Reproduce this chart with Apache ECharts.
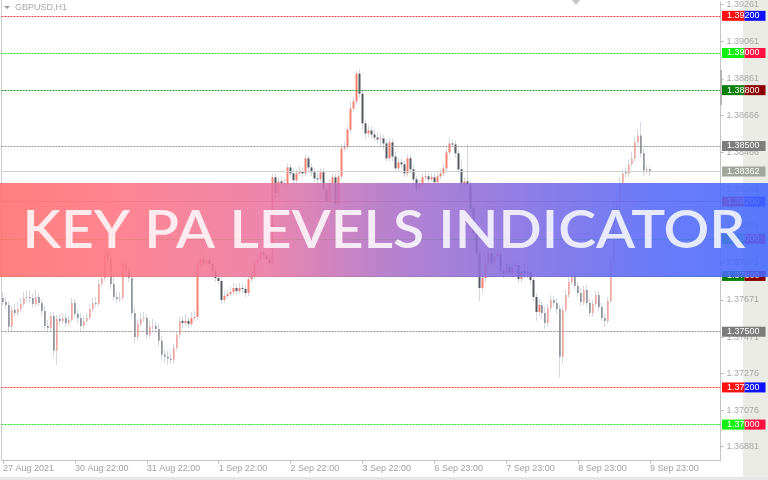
<!DOCTYPE html>
<html><head><meta charset="utf-8">
<script src="https://cdn.jsdelivr.net/npm/echarts@6/dist/echarts.min.js"></script>
<style>html,body{margin:0;padding:0;background:#fff}#c{width:768px;height:480px}</style>
</head><body><div id="c"></div>
<script>
// ---- data ----
const dayLabels = ['27 Aug 2021','30 Aug 22:00','31 Aug 22:00','1 Sep 22:00','2 Sep 22:00','3 Sep 22:00','6 Sep 23:00','7 Sep 23:00','8 Sep 23:00','9 Sep 23:00'];
const barsPerLabel = 24;
const slotCount = 240;
const opens = [
1.37681,1.37660,1.37644,1.37526,1.37617,1.37601,1.37622,1.37649,1.37681,1.37687,
1.37681,1.37649,1.37687,1.37655,1.37612,1.37531,1.37520,1.37585,1.37397,1.37569,
1.37558,1.37574,1.37547,1.37563,1.37655,1.37596,1.37574,1.37531,1.37558,1.37574,
1.37622,1.37655,1.37649,1.37757,1.37789,1.37928,1.37891,1.37757,1.37687,1.37676,
1.37681,1.37864,1.37826,1.37789,1.37601,1.37472,1.37542,1.37569,1.37574,1.37483,
1.37526,1.37531,1.37515,1.37451,1.37376,1.37365,1.37354,1.37349,1.37413,1.37483,
1.37558,1.37547,1.37558,1.37542,1.37574,1.37580,1.37859,1.37891,1.37869,1.37885,
1.37864,1.37826,1.37789,1.37773,1.37671,1.37692,1.37703,1.37714,1.37735,1.37719,
1.37735,1.37730,1.37708,1.37783,1.37800,1.37869,1.37891,1.37928,1.37912,1.37891,
1.37869,1.38331,1.38245,1.38309,1.38299,1.38293,1.38384,1.38352,1.38315,1.38352,
1.38363,1.38352,1.38433,1.38384,1.38358,1.38325,1.38320,1.38358,1.38266,1.38202,
1.38299,1.38331,1.38186,1.38336,1.38486,1.38497,1.38588,1.38701,1.38739,1.38889,
1.38781,1.38621,1.38567,1.38583,1.38561,1.38545,1.38535,1.38540,1.38513,1.38433,
1.38519,1.38443,1.38379,1.38411,1.38401,1.38352,1.38433,1.38374,1.38320,1.38266,
1.38293,1.38331,1.38336,1.38320,1.38331,1.38304,1.38336,1.38352,1.38379,1.38465,
1.38513,1.38508,1.38460,1.38374,1.38299,1.38309,1.38293,1.38164,1.38030,1.37923,
1.37735,1.37789,1.37869,1.37923,1.37869,1.37907,1.37918,1.37826,1.37810,1.37848,
1.37816,1.37848,1.37859,1.37783,1.37826,1.37810,1.37821,1.37778,1.37687,1.37606,
1.37644,1.37601,1.37547,1.37628,1.37671,1.37655,1.37622,1.37365,1.37617,1.37698,
1.37767,1.37794,1.37746,1.37708,1.37660,1.37724,1.37655,1.37601,1.37649,1.37698,
1.37633,1.37574,1.37558,1.37665,1.37869,1.38159,1.38186,1.38299,1.38358,1.38352,
1.38401,1.38433,1.38519,1.38556,1.38460,1.38368,1.38374];
const closes = [
1.37660,1.37644,1.37526,1.37617,1.37601,1.37622,1.37649,1.37681,1.37687,1.37681,
1.37649,1.37687,1.37655,1.37612,1.37531,1.37520,1.37585,1.37397,1.37569,1.37558,
1.37574,1.37547,1.37563,1.37655,1.37596,1.37574,1.37531,1.37558,1.37574,1.37622,
1.37655,1.37649,1.37757,1.37789,1.37928,1.37891,1.37757,1.37687,1.37676,1.37681,
1.37864,1.37826,1.37789,1.37601,1.37472,1.37542,1.37569,1.37574,1.37483,1.37526,
1.37531,1.37515,1.37451,1.37376,1.37365,1.37354,1.37349,1.37413,1.37483,1.37558,
1.37547,1.37558,1.37542,1.37574,1.37580,1.37859,1.37891,1.37869,1.37885,1.37864,
1.37826,1.37789,1.37773,1.37671,1.37692,1.37703,1.37714,1.37735,1.37719,1.37735,
1.37730,1.37708,1.37783,1.37800,1.37869,1.37891,1.37928,1.37912,1.37891,1.37869,
1.38331,1.38245,1.38309,1.38299,1.38293,1.38384,1.38352,1.38315,1.38352,1.38363,
1.38352,1.38433,1.38384,1.38358,1.38325,1.38320,1.38358,1.38266,1.38202,1.38299,
1.38331,1.38186,1.38336,1.38486,1.38497,1.38588,1.38701,1.38739,1.38889,1.38781,
1.38621,1.38567,1.38583,1.38561,1.38545,1.38535,1.38540,1.38513,1.38433,1.38519,
1.38443,1.38379,1.38411,1.38401,1.38352,1.38433,1.38374,1.38320,1.38266,1.38293,
1.38331,1.38336,1.38320,1.38331,1.38304,1.38336,1.38352,1.38379,1.38465,1.38513,
1.38508,1.38460,1.38374,1.38299,1.38309,1.38293,1.38164,1.38030,1.37923,1.37735,
1.37789,1.37869,1.37923,1.37869,1.37907,1.37918,1.37826,1.37810,1.37848,1.37816,
1.37848,1.37859,1.37783,1.37826,1.37810,1.37821,1.37778,1.37687,1.37606,1.37644,
1.37601,1.37547,1.37628,1.37671,1.37655,1.37622,1.37365,1.37617,1.37698,1.37767,
1.37794,1.37746,1.37708,1.37660,1.37724,1.37655,1.37601,1.37649,1.37698,1.37633,
1.37574,1.37558,1.37665,1.37869,1.38159,1.38186,1.38299,1.38352,1.38352,1.38401,
1.38433,1.38519,1.38556,1.38460,1.38368,1.38374,1.38362];
const lows = [
1.37638,1.37622,1.37499,1.37504,1.37580,1.37585,1.37606,1.37633,1.37660,1.37655,
1.37628,1.37633,1.37638,1.37590,1.37510,1.37494,1.37504,1.37365,1.37322,1.37537,
1.37542,1.37526,1.37531,1.37553,1.37580,1.37547,1.37504,1.37515,1.37547,1.37563,
1.37606,1.37633,1.37638,1.37741,1.37773,1.37869,1.37730,1.37665,1.37655,1.37660,
1.37671,1.37794,1.37767,1.37580,1.37440,1.37451,1.37526,1.37553,1.37461,1.37467,
1.37504,1.37494,1.37424,1.37343,1.37333,1.37322,1.37327,1.37333,1.37397,1.37467,
1.37520,1.37531,1.37520,1.37531,1.37558,1.37563,1.37842,1.37848,1.37853,1.37842,
1.37805,1.37767,1.37751,1.37649,1.37655,1.37681,1.37692,1.37698,1.37698,1.37708,
1.37708,1.37687,1.37692,1.37767,1.37783,1.37853,1.37875,1.37891,1.37869,1.37848,
1.37853,1.38213,1.38229,1.38277,1.38266,1.38277,1.38331,1.38293,1.38299,1.38336,
1.38331,1.38336,1.38363,1.38336,1.38304,1.38299,1.38304,1.38245,1.38175,1.38186,
1.38282,1.38159,1.38170,1.38320,1.38470,1.38481,1.38572,1.38685,1.38722,1.38760,
1.38588,1.38540,1.38545,1.38535,1.38524,1.38513,1.38497,1.38481,1.38417,1.38417,
1.38417,1.38363,1.38363,1.38379,1.38331,1.38336,1.38352,1.38299,1.38245,1.38250,
1.38277,1.38315,1.38299,1.38309,1.38282,1.38288,1.38320,1.38336,1.38363,1.38449,
1.38492,1.38438,1.38352,1.38256,1.38277,1.38256,1.38138,1.38009,1.37891,1.37665,
1.37708,1.37762,1.37848,1.37848,1.37848,1.37891,1.37800,1.37789,1.37794,1.37794,
1.37800,1.37837,1.37762,1.37767,1.37789,1.37789,1.37757,1.37665,1.37558,1.37585,
1.37569,1.37515,1.37526,1.37612,1.37633,1.37596,1.37252,1.37333,1.37601,1.37681,
1.37751,1.37724,1.37687,1.37638,1.37644,1.37633,1.37580,1.37580,1.37633,1.37612,
1.37558,1.37526,1.37542,1.37655,1.37853,1.38138,1.38170,1.38277,1.38325,1.38331,
1.38384,1.38417,1.38502,1.38438,1.38341,1.38352,1.38336];
const highs = [
1.37714,1.37687,1.37665,1.37638,1.37649,1.37660,1.37681,1.37714,1.37724,1.37719,
1.37703,1.37724,1.37708,1.37676,1.37638,1.37563,1.37606,1.37606,1.37590,1.37596,
1.37601,1.37596,1.37585,1.37681,1.37676,1.37617,1.37601,1.37585,1.37601,1.37649,
1.37681,1.37687,1.37778,1.37826,1.37955,1.37950,1.37923,1.37794,1.37714,1.37714,
1.37891,1.37885,1.37853,1.37810,1.37628,1.37569,1.37601,1.37606,1.37596,1.37558,
1.37569,1.37558,1.37542,1.37478,1.37402,1.37397,1.37381,1.37435,1.37504,1.37580,
1.37585,1.37596,1.37580,1.37606,1.37612,1.37891,1.37923,1.37912,1.37907,1.37907,
1.37885,1.37848,1.37810,1.37794,1.37719,1.37730,1.37741,1.37762,1.37757,1.37762,
1.37757,1.37751,1.37800,1.37826,1.37891,1.37918,1.37950,1.37950,1.37934,1.37912,
1.38352,1.38352,1.38331,1.38336,1.38325,1.38406,1.38401,1.38374,1.38374,1.38390,
1.38384,1.38454,1.38449,1.38406,1.38379,1.38352,1.38379,1.38379,1.38288,1.38320,
1.38352,1.38352,1.38358,1.38508,1.38524,1.38610,1.38739,1.38760,1.38905,1.38910,
1.38803,1.38642,1.38610,1.38604,1.38588,1.38578,1.38567,1.38561,1.38535,1.38545,
1.38540,1.38470,1.38433,1.38433,1.38422,1.38454,1.38454,1.38395,1.38341,1.38315,
1.38352,1.38363,1.38358,1.38352,1.38352,1.38358,1.38374,1.38401,1.38486,1.38545,
1.38535,1.38529,1.38481,1.38417,1.38331,1.38508,1.38309,1.38186,1.38052,1.37944,
1.37816,1.37907,1.37944,1.37939,1.37934,1.37939,1.37934,1.37869,1.37880,1.37869,
1.37869,1.37885,1.37880,1.37848,1.37869,1.37842,1.37837,1.37805,1.37708,1.37676,
1.37665,1.37633,1.37649,1.37698,1.37692,1.37681,1.37644,1.37638,1.37724,1.37794,
1.37826,1.37816,1.37767,1.37735,1.37746,1.37751,1.37681,1.37671,1.37719,1.37719,
1.37655,1.37596,1.37687,1.37891,1.38202,1.38229,1.38331,1.38374,1.38384,1.38427,
1.38470,1.38545,1.38588,1.38631,1.38486,1.38395,1.38384];
const yTickValues = [1.36881,1.37076,1.37276,1.37471,1.37671,1.37871,1.38071,1.38266,1.38466,1.38666,1.38861,1.39061,1.39261];
const levelValues = [1.39200,1.39000,1.38800,1.38500,1.38200,1.38000,1.37800,1.37500,1.37200,1.37000];
const levelKinds  = ['up20','round','down20','half','up20','round','down20','half','up20','round'];
const currentPrice = 1.38362;
const yMin = 1.368067, yMax = 1.392751;
const symbolLabel = 'GBPUSD,H1';
const bannerText = 'KEY PA LEVELS INDICATOR';

// ---- styles ----
const FONT = 'Liberation Sans';
const BULL = '#f7806f', BEAR = '#535961', WICK = '#d4d7e2';
const kindStyle = {
  up20:   {line:'#ff4040', l:'lr', r:'rb'},
  round:  {line:'#22e622', l:'lg', r:'rc'},
  down20: {line:'#2f962f', l:'ldg', r:'rdr'},
  half:   {line:'#999999', l:null, r:null}
};
function box(bg, pad){ return {backgroundColor:bg, color:'#fff', fontSize:9, fontFamily:FONT, lineHeight:10, height:10, padding:pad}; }
const rich = {
  lr: box('#ff1010',[0,0,0,5]), rb: box('#1010ff',[0,6,0,0]),
  lg: box('#10f010',[0,0,0,5]), rc: box('#ff1040',[0,6,0,0]),
  ldg: box('#0a800a',[0,0,0,5]), rdr: box('#8a0000',[0,6,0,0]),
  gr: box('#7c7c7c',[0,6,0,5]), cur: box('#a3a69d',[0,6,0,5])
};

const categories = Array.from({length: slotCount}, (_, i) => String(i));
const wickData = opens.map((o, i) => [o, closes[i], lows[i], highs[i]]);
const bodyData = opens.map((o, i) => [o, closes[i], Math.min(o, closes[i]), Math.max(o, closes[i])]);
const showTick = (idx) => idx % barsPerLabel === 0 && idx / barsPerLabel < dayLabels.length;

const allLevels = levelValues.concat([currentPrice]);
function levelSeries(v, k) {
  const isCur = k >= levelValues.length;
  const st = isCur ? null : kindStyle[levelKinds[k]];
  const t = v.toFixed(5);
  const fmt = isCur ? '{cur|' + t + '}' : (st.l ? '{' + st.l + '|' + t.slice(0,4) + '}{' + st.r + '|' + t.slice(4) + '}' : '{gr|' + t + '}');
  return {
    type: 'line', data: [], silent: true, z: isCur ? 1 : 2,
    markLine: {
      symbol: ['none','none'], silent: true, animation: false, precision: 5,
      lineStyle: isCur ? {color:'#d0d0d0', type:'solid', width:1} : {color: st.line, type:[2,1], width:1},
      label: {show: true, position: 'end', distance: 1.5, formatter: fmt, rich: rich},
      data: [{yAxis: v}]
    }
  };
}

// banner text: stretch to the banner's text width
const BANNER_FONT = '600 52px Lato';
const measureCtx = document.createElement('canvas').getContext('2d');
measureCtx.font = BANNER_FONT;
const bannerScale = 723 / measureCtx.measureText(bannerText).width;

const chart = echarts.init(document.getElementById('c'), null, {renderer:'canvas'});
chart.setOption({
  animation: false,
  backgroundColor: '#ffffff',
  grid: {left: 0.5, top: 0.5, width: 720, height: 460, containLabel: false},
  xAxis: {
    type: 'category', data: categories, boundaryGap: true,
    axisLine: {show: true, lineStyle: {color: '#c4c4c4'}},
    axisTick: {show: true, interval: showTick, alignWithLabel: true, length: 3, lineStyle: {color: '#b8b8b8'}},
    axisLabel: {interval: showTick, align: 'left', margin: 4, color: '#a0a0a0', fontSize: 9, fontFamily: FONT,
      formatter: (val, idx) => dayLabels[Math.round(idx / barsPerLabel)] || ''},
    splitLine: {show: false}
  },
  yAxis: {
    type: 'value', position: 'right', min: yMin, max: yMax,
    axisLine: {show: true, lineStyle: {color: '#c4c4c4'}},
    axisTick: {show: true, length: 3, customValues: yTickValues, lineStyle: {color: '#b8b8b8'}},
    axisLabel: {customValues: yTickValues, margin: 6, color: '#a8a8a8', fontSize: 9, fontFamily: FONT,
      formatter: (v) => v.toFixed(5)},
    splitLine: {show: false}
  },
  series: allLevels.map(levelSeries).concat([
    {type: 'candlestick', name: 'wicks', data: wickData, barWidth: 1, z: 3,
      itemStyle: {color: WICK, color0: WICK, borderColor: WICK, borderColor0: WICK, borderWidth: 1}},
    {type: 'candlestick', name: 'bodies', data: bodyData, barWidth: 2, z: 4,
      itemStyle: {color: BULL, color0: BEAR, borderColor: BULL, borderColor0: BEAR, borderWidth: 0}}
  ]),
  graphic: [
    {type:'rect', silent:true, z:-10, shape:{x:743, y:0, width:25, height:477}, style:{fill:'#e9ebe4'}},
    {type:'rect', silent:true, z:-10, shape:{x:0, y:477, width:768, height:3}, style:{fill:'#e4e6e8'}},
    {type:'line', silent:true, z:5, shape:{x1:1.5, y1:0, x2:1.5, y2:460}, style:{stroke:'#cfcfcf', lineWidth:1}},
    {type:'rect', silent:true, z:6, shape:{x:720, y:70, width:2, height:35}, style:{fill:'#b4b4b4'}},
    {type:'polygon', silent:true, z:6, shape:{points:[[572,0],[580,0],[576,5]]}, style:{fill:'#c6c6c6'}},
    {type:'polygon', silent:true, z:6, shape:{points:[[4,6],[10,6],[7,9]]}, style:{fill:'#9a9a9a'}},
    {type:'text', silent:true, z:6, x:15, y:8, style:{text:symbolLabel, fill:'#a8a8a8', font:'9px "Liberation Sans"', verticalAlign:'middle'}},
    {type:'rect', silent:true, z:100, shape:{x:0, y:183, width:768, height:94},
      style:{opacity:0.88, fill:{type:'linear', x:0, y:0, x2:1, y2:0, colorStops:[
        {offset:0, color:'#ff6e6e'}, {offset:0.15, color:'#ff7482'}, {offset:0.35, color:'#e976a2'},
        {offset:0.5, color:'#af71c6'}, {offset:0.7, color:'#7c6be5'}, {offset:0.85, color:'#5669f7'}, {offset:1, color:'#4369ff'}]}}},
    {type:'text', silent:true, z:101, x:384, y:231, scaleX: bannerScale, originX:0, originY:0,
      style:{text:bannerText, fill:'rgba(255,255,255,0.84)', font:BANNER_FONT, align:'center', verticalAlign:'middle'}}
  ]
});
</script></body></html>
